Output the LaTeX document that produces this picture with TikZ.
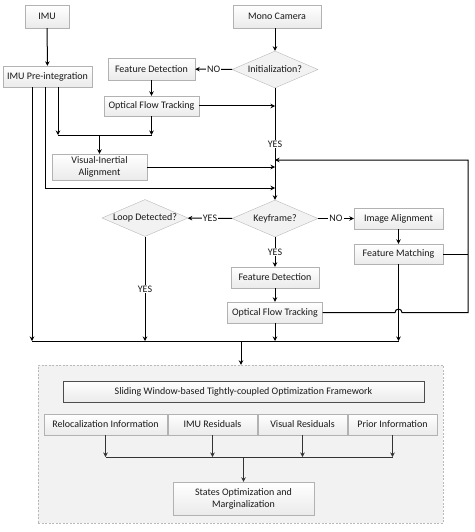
\documentclass[tikz,border=0pt]{standalone}
\usepackage{fontspec}
\setmainfont{Carlito}
\usetikzlibrary{arrows.meta,shapes.geometric,calc}
\begin{document}
\begin{tikzpicture}[x=1pt,y=-1pt,
  font=\fontsize{10}{12}\selectfont,
  box/.style={draw=gray!60, top color=white, bottom color=gray!16, inner sep=1pt, align=center, text=black!90},
  dec/.style={diamond, aspect=2.3, draw=gray!55, fill=gray!10, inner sep=0pt, minimum width=86pt, minimum height=37pt, text=black!90},
  arr/.style={-{Stealth[length=4.5pt,width=4.5pt]}, line width=1pt},
  ln/.style={line width=1pt},
  lab/.style={fill=white, inner sep=1pt, text=black!90}]
\useasboundingbox (0,0) rectangle (474,532);

% top part
\node[box, minimum width=44pt, minimum height=23pt] (imu) at (47,16.5) {IMU};
\node[box, minimum width=88pt, minimum height=23pt] (mono) at (277,16.5) {Mono Camera};
\node[box, minimum width=89pt, minimum height=21pt] (imupi) at (47.5,76.5) {IMU Pre-integration};
\node[dec] (init) at (275,69.5) {Initialization?};
\node[box, minimum width=87pt, minimum height=22pt] (fd1) at (151.5,69) {Feature Detection};
\node[box, minimum width=95pt, minimum height=20pt] (oft1) at (151.5,106) {Optical Flow Tracking};
\node[box, minimum width=95pt, minimum height=26pt] (via) at (99.5,167) {Visual-Inertial\\Alignment};
\node[dec] (key) at (275,218.5) {Keyframe?};
\node[dec] (loop) at (145,218) {Loop Detected?};
\node[box, minimum width=89pt, minimum height=21pt] (ia) at (398.5,218.5) {Image Alignment};
\node[box, minimum width=89pt, minimum height=20pt] (fm) at (398.5,254) {Feature Matching};
\node[box, minimum width=88pt, minimum height=21pt] (fd2) at (275,277.5) {Feature Detection};
\node[box, minimum width=95pt, minimum height=21pt] (oft2) at (275,312.5) {Optical Flow Tracking};

% lower frame
\node[draw=gray!55, dash pattern=on 2pt off 1.5pt, fill=gray!10, minimum width=405pt, minimum height=158pt] (frame) at (240.5,444) {};
\node[box, draw=black!70, line width=0.9pt, minimum width=361pt, minimum height=21pt] (sw) at (243.5,391.5) {Sliding Window-based Tightly-coupled Optimization Framework};
\node[box, minimum width=123pt, minimum height=21pt] (reloc) at (105.5,424.5) {Relocalization Information};
\node[box, minimum width=89pt, minimum height=21pt] (imures) at (212.5,424.5) {IMU Residuals};
\node[box, minimum width=89pt, minimum height=21pt] (visres) at (302.5,424.5) {Visual Residuals};
\node[box, minimum width=89pt, minimum height=21pt] (prior) at (392.5,424.5) {Prior Information};
\node[box, minimum width=141pt, minimum height=33pt] (states) at (243.5,498.5) {States Optimization and\\Marginalization};

% coordinates
\coordinate (jl) at (58,135);
\coordinate (jr) at (151.5,135);
\coordinate (jm) at (99.5,135);
\coordinate (b2) at (45,188);
\coordinate (r1) at (468,160);
\coordinate (r2) at (468,312.5);
\coordinate (h1) at (395,312.5);
\coordinate (h2) at (402,312.5);
\coordinate (bl) at (32,341);
\coordinate (br) at (398.5,341);
\coordinate (bo) at (241,341);
\coordinate (lb) at (105.5,457);
\coordinate (sb) at (243.5,457);

% connectors top
\draw[arr] (imu) -- (imupi);
\draw[arr] (mono.south -| init.north) -- (init);
\draw[arr] (init) -- node[lab]{NO} (fd1);
\draw[arr] (fd1) -- (oft1);
\draw[arr] (oft1.east) -- (oft1.east -| init.south);
\draw[arr] (imupi.south -| jl) -- (jl);
\draw[arr] (oft1.south) -- (jr);
\draw[ln] (jl) -- (jr);
\draw[arr] (jm) -- (via.north);
\draw[arr] (via.east) -- (via.east -| init.south);
\draw[arr] (imupi.south -| b2) -- (b2) -- (b2 -| init.south);
\draw[arr] (init.south) -- node[lab]{YES} (key.north);
\draw[arr] (oft2.east) -- (h1) .. controls ([yshift=4.5pt]h1) and ([yshift=4.5pt]h2) .. (h2) -- (r2) -- (r1) -- (r1 -| init.south);
\draw[ln] (fm.east) -- (fm.east -| r1);

% keyframe branches
\draw[arr] (key) -- node[lab]{YES} (loop);
\draw[arr] (key) -- node[lab]{NO} (ia);
\draw[arr] (ia) -- (fm);
\draw[arr] (key.south) -- node[lab]{YES} (fd2.north);
\draw[arr] (fd2) -- (oft2);

% bottom bus
\draw[arr] (imupi.south -| bl) -- (bl);
\draw[arr] (loop.south) -- node[lab]{YES} (loop.south |- bl);
\draw[arr] (oft2.south) -- (oft2.south |- bl);
\draw[arr] (fm.south) -- (br);
\draw[ln] (bl) -- (br);
\draw[arr] (bo) -- (bo |- frame.north);

% lower frame connectors
\begin{scope}[draw=black!80]
\draw[arr] (reloc.south) -- (lb);
\draw[arr] (imures.south) -- (imures.south |- lb);
\draw[arr] (visres.south) -- (visres.south |- lb);
\draw[arr] (prior.south) -- (prior.south |- lb);
\draw[ln] (lb) -- (prior.south |- lb);
\draw[arr] (sb) -- (states.north);
\end{scope}
\end{tikzpicture}
\end{document}
